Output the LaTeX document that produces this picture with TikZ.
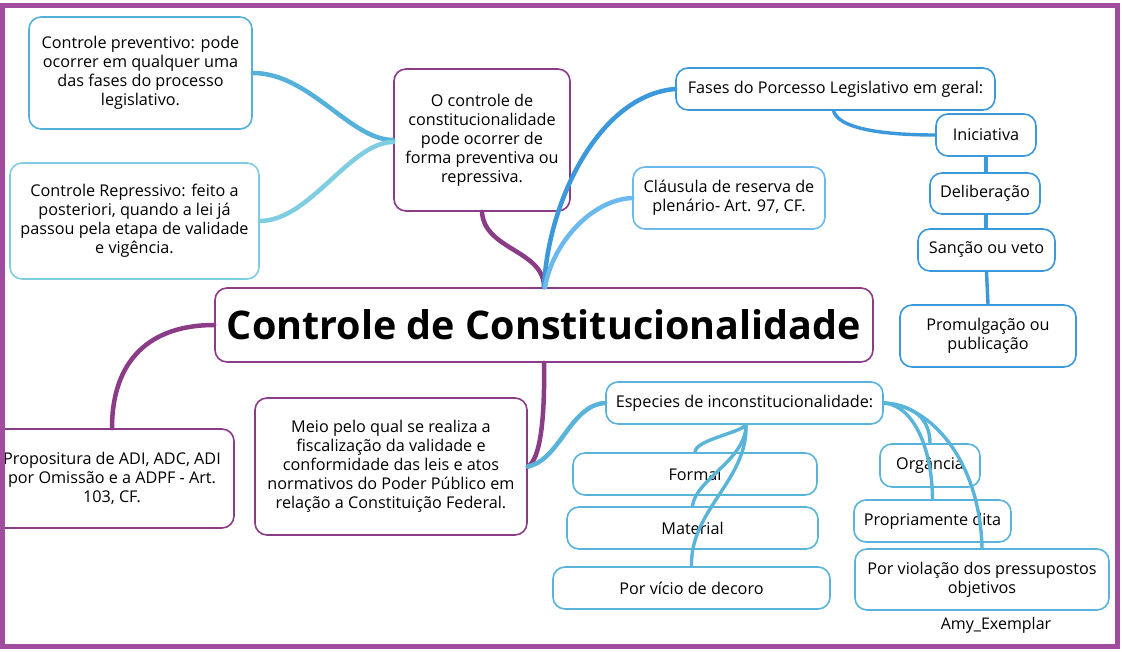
\documentclass[tikz,border=0pt]{standalone}
\usepackage{fontspec}
\setmainfont{Open Sans}
\usetikzlibrary{calc}
\definecolor{frame}{HTML}{A24C9E}
\definecolor{purp}{HTML}{8A3D86}
\definecolor{bprev}{HTML}{55B0DA}
\definecolor{brep}{HTML}{7FCDE0}
\definecolor{bfase}{HTML}{3A98DB}
\definecolor{bcla}{HTML}{6CB9EE}
\definecolor{besp}{HTML}{5AB4DA}
\begin{document}
\begin{tikzpicture}[x=1pt,y=-1pt,
  box/.style={draw, fill=white, rounded corners=12pt, line width=1.6pt, align=center, inner sep=0pt, font=\fontsize{16.2}{19}\selectfont},
  conn/.style={line width=4.5pt, line cap=round},
  thinconn/.style={line width=3.4pt, line cap=round}]
\useasboundingbox (0,0) rectangle (1122,652);
\fill[white] (0,0) rectangle (1122,652);

% nodes
\node[box, draw=bprev, minimum width=223pt, minimum height=112pt] (prev) at (140.5,73) {Controle preventivo: pode\\ocorrer em qualquer uma\\das fases do processo\\legislativo.};
\node[box, draw=brep, minimum width=249pt, minimum height=116pt] (rep) at (134.5,221) {Controle Repressivo: feito a\\posteriori, quando a lei já\\passou pela etapa de validade\\e vigência.};
\node[box, draw=purp, minimum width=176pt, minimum height=142pt] (oc) at (482,140) {O controle de\\constitucionalidade\\pode ocorrer de\\forma preventiva ou\\repressiva.};
\node[box, draw=purp, minimum width=658pt, minimum height=74pt, font=\fontsize{39.5}{45}\selectfont\bfseries] (main) at (544,325) {Controle de Constitucionalidade};
\node[box, draw=bfase, minimum width=319pt, minimum height=42pt] (fases) at (835.5,89) {Fases do Porcesso Legislativo em geral:};
\node[box, draw=bfase, minimum width=100pt, minimum height=42pt] (ini) at (986,135) {Iniciativa};
\node[box, draw=bfase, minimum width=110pt, minimum height=41pt] (del) at (985,193.5) {Deliberação};
\node[box, draw=bfase, minimum width=137pt, minimum height=42pt] (san) at (986.5,250) {Sanção ou veto};
\node[box, draw=bfase, minimum width=176pt, minimum height=62pt] (prom) at (988,336) {Promulgação ou\\publicação};
\node[box, draw=bcla, minimum width=192pt, minimum height=62pt] (cla) at (729,198) {Cláusula de reserva de\\plenário- Art. 97, CF.};
\node[box, draw=purp, minimum width=244pt, minimum height=99pt] (prop) at (112,478.5) {Propositura de ADI, ADC, ADI\\por Omissão e a ADPF - Art.\\103, CF.};
\node[box, draw=purp, minimum width=272pt, minimum height=137pt] (meio) at (391,466.5) {Meio pelo qual se realiza a\\fiscalização da validade e\\conformidade das leis e atos\\normativos do Poder Público em\\relação a Constituição Federal.};
\node[box, draw=besp, minimum width=277pt, minimum height=42pt] (esp) at (744.5,403) {Especies de inconstitucionalidade:};
\node[box, draw=besp, minimum width=244pt, minimum height=42pt] (formal) at (695,474) {Formal};
\node[box, draw=besp, minimum width=251pt, minimum height=42pt] (mat) at (692.5,528) {Material};
\node[box, draw=besp, minimum width=277pt, minimum height=42pt] (vicio) at (691.5,588) {Por vício de decoro};
\node[box, draw=besp, minimum width=100pt, minimum height=43pt] (org) at (930,465.5) {Orgância};
\node[box, draw=besp, minimum width=157pt, minimum height=42pt] (propd) at (932.5,521) {Propriamente dita};
\node[box, draw=besp, minimum width=254pt, minimum height=61pt] (viol) at (982,579.5) {Por violação dos pressupostos\\objetivos};
\node[font=\fontsize{16}{16}\selectfont, inner sep=0pt] (amy) at (996,625) {Amy\_Exemplar};

% connectors
\draw[conn, purp] (main.north) .. controls (544,250) and (484,250) .. (oc.south);
\draw[conn, bfase] (main.north) .. controls (548,200) and (600,95) .. (fases.west);
\draw[conn, bcla] ($(main.north)+(1,0)$) .. controls (552,245) and (590,200) .. (cla.west);
\draw[conn, purp] (main.west) .. controls (150,325) and (112,360) .. (prop.north);
\draw[conn, purp] (main.south) .. controls (545,420) and (540,460) .. (meio.east);
\draw[conn, besp] (meio.east) .. controls (560,460) and (570,405) .. (esp.west);
\draw[conn, bprev] (oc.west) .. controls (350,140) and (310,73) .. (prev.east);
\draw[conn, brep] ($(oc.west)+(0,2)$) .. controls (350,142) and (310,221) .. (rep.east);
\draw[thinconn, bfase] ($(fases.south)+(-2,0)$) .. controls (838,128) and (880,135) .. (ini.west);
\draw[thinconn, bfase] (ini.south) -- (del.north -| ini.south);
\draw[thinconn, bfase] (del.south -| ini.south) -- (san.north -| ini.south);
\draw[thinconn, bfase] (san.south) -- (prom.north);
\draw[thinconn, besp] ($(esp.south)+(1.5,0)$) .. controls (740,433) and (695,440) .. (formal.north);
\draw[thinconn, besp] ($(esp.south)+(1.5,0)$) .. controls (746,460) and (695,480) .. (mat.north);
\draw[thinconn, besp] ($(esp.south)+(1.5,0)$) .. controls (748,480) and (690,510) .. (vicio.north);
\draw[thinconn, besp] (esp.east) .. controls (915,405) and (930,420) .. (org.north);
\draw[thinconn, besp] (esp.east) .. controls (912,405) and (932,445) .. (propd.north);
\draw[thinconn, besp] (esp.east) .. controls (930,405) and (980,460) .. (viol.north);

% frame
\draw[frame, line width=5pt] (2.5,5.5) rectangle (1117.5,646.5);
\end{tikzpicture}
\end{document}
